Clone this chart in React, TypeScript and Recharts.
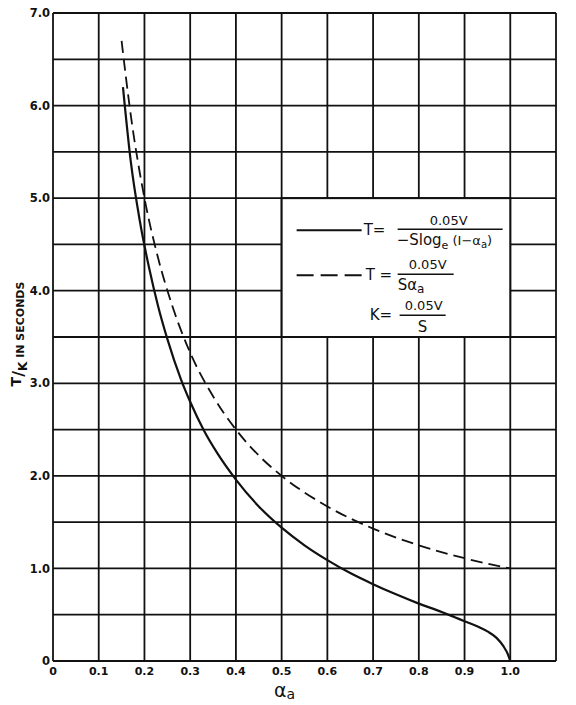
import React from 'react';
import {
  ComposedChart,
  Line,
  XAxis,
  YAxis,
  CartesianGrid,
  ReferenceArea,
} from 'recharts';

// solid: T = 0.05V / (-S log_e(1 - alpha)), in units of K
const solidAlpha = [0.153, 0.17, 0.19, 0.21, 0.23, 0.25, 0.28, 0.3, 0.33, 0.36, 0.4, 0.45, 0.5, 0.55, 0.6, 0.65, 0.7, 0.75, 0.8, 0.85, 0.88, 0.9, 0.93, 0.95, 0.97, 0.985, 0.995, 1.0];
const solidT = [6.2, 5.4, 4.75, 4.25, 3.83, 3.48, 3.04, 2.8, 2.49, 2.24, 1.96, 1.67, 1.44, 1.25, 1.09, 0.95, 0.83, 0.72, 0.62, 0.53, 0.47, 0.43, 0.37, 0.32, 0.25, 0.16, 0.07, 0];

// dashed: T = 0.05V / (S alpha)
const dashedAlpha = [0.15, 0.17, 0.2, 0.23, 0.26, 0.3, 0.35, 0.4, 0.45, 0.5, 0.6, 0.7, 0.8, 0.9, 1.0];
const dashedT = [6.7, 5.9, 5.0, 4.35, 3.85, 3.33, 2.86, 2.5, 2.22, 2.0, 1.67, 1.43, 1.25, 1.11, 1.0];

const xTicks = [0, 0.1, 0.2, 0.3, 0.4, 0.5, 0.6, 0.7, 0.8, 0.9, 1.0, 1.1];
const yTicks = [0, 0.5, 1, 1.5, 2, 2.5, 3, 3.5, 4, 4.5, 5, 5.5, 6, 6.5, 7];

const solidData = solidAlpha.map((a, i) => ({ a, t: solidT[i] }));
const dashedData = dashedAlpha.map((a, i) => ({ a, t: dashedT[i] }));

const FONT = '"DejaVu Sans", sans-serif';
const INK = '#111';

const fmtX = (v: number) => (v > 1.05 ? '' : v === 0 ? '0' : v.toFixed(1));
const fmtY = (v: number) => (!Number.isInteger(v) ? '' : v === 0 ? '0' : v.toFixed(1));

const LegendBox = ({ x, y, width, height }: any) => {
  const x0 = x;
  const y0 = y;
  return (
    <g fontFamily={FONT} fill={INK}>
      <rect x={x0} y={y0} width={width} height={height} fill="#fff" stroke={INK} strokeWidth={2} />
      {/* solid entry */}
      <line x1={x0 + 15} x2={x0 + 80} y1={y0 + 32} y2={y0 + 32} stroke={INK} strokeWidth={2} />
      <text x={x0 + 82} y={y0 + 37} fontSize={15}>T=</text>
      <text x={x0 + 167} y={y0 + 27} fontSize={13} textAnchor="middle">0.05V</text>
      <line x1={x0 + 116} x2={x0 + 221} y1={y0 + 31} y2={y0 + 31} stroke={INK} strokeWidth={1.5} />
      <text x={x0 + 115} y={y0 + 47} fontSize={15}>
        −Slog<tspan fontSize={11} dy={4}>e</tspan>
        <tspan dy={-4} fontSize={13}> (I−α</tspan>
        <tspan fontSize={10} dy={3}>a</tspan>
        <tspan dy={-3} fontSize={13}>)</tspan>
      </text>
      {/* dashed entry */}
      <line x1={x0 + 15} x2={x0 + 80} y1={y0 + 77} y2={y0 + 77} stroke={INK} strokeWidth={2} strokeDasharray="17 7" />
      <text x={x0 + 84} y={y0 + 82} fontSize={15}>T =</text>
      <text x={x0 + 146} y={y0 + 71} fontSize={13} textAnchor="middle">0.05V</text>
      <line x1={x0 + 116} x2={x0 + 172} y1={y0 + 76} y2={y0 + 76} stroke={INK} strokeWidth={1.5} />
      <text x={x0 + 116} y={y0 + 92} fontSize={15}>
        Sα<tspan fontSize={12} dy={3}>a</tspan>
      </text>
      {/* K definition */}
      <text x={x0 + 88} y={y0 + 122} fontSize={15}>K=</text>
      <text x={x0 + 142} y={y0 + 112} fontSize={13} textAnchor="middle">0.05V</text>
      <line x1={x0 + 118} x2={x0 + 164} y1={y0 + 117} y2={y0 + 117} stroke={INK} strokeWidth={1.5} />
      <text x={x0 + 141} y={y0 + 134} fontSize={15} textAnchor="middle">S</text>
    </g>
  );
};

const XLabel = ({ viewBox }: any) => {
  // sits under the 0.5 gridline
  const cx = viewBox.x + viewBox.width * (0.5 / 1.1) + 3;
  return (
    <text x={cx} y={697} fontFamily={FONT} fontSize={19} fill={INK} textAnchor="middle">
      α<tspan fontSize={14} dy={2}>a</tspan>
    </text>
  );
};

const YLabel = () => (
  <text
    transform="translate(24, 334) rotate(-90)"
    fontFamily={FONT}
    fill={INK}
    textAnchor="middle"
    fontWeight="bold"
  >
    <tspan fontSize={14} dy={-3}>T</tspan>
    <tspan fontSize={16} dy={3}>/</tspan>
    <tspan fontSize={12} dy={3}>K</tspan>
    <tspan fontSize={11} dy={-3}>  IN SECONDS</tspan>
  </text>
);

export default function App() {
  return (
    <div style={{ position: 'absolute', left: 0, top: 0, background: '#fff' }}>
      <ComposedChart
        width={576}
        height={705}
        margin={{ top: 13, right: 20, left: 0, bottom: 0 }}
      >
        <CartesianGrid stroke={INK} strokeWidth={1.8} />
        <XAxis
          type="number"
          dataKey="a"
          domain={[0, 1.1]}
          ticks={xTicks}
          tickFormatter={fmtX}
          interval={0}
          height={44}
          axisLine={false}
          tickLine={false}
          tickSize={0}
          tickMargin={6}
          tick={{ fill: INK, fontSize: 11, fontWeight: 'bold', fontFamily: FONT }}
          label={<XLabel />}
        />
        <YAxis
          type="number"
          domain={[0, 7]}
          ticks={yTicks}
          tickFormatter={fmtY}
          interval={0}
          width={53}
          axisLine={false}
          tickLine={false}
          tickSize={0}
          tickMargin={3}
          tick={{ fill: INK, fontSize: 11.5, fontWeight: 'bold', fontFamily: FONT }}
          label={<YLabel />}
        />
        <ReferenceArea
          x1={0.5}
          x2={1.0}
          y1={3.5}
          y2={5.0}
          shape={(p: any) => <LegendBox {...p} />}
        />
        <Line
          data={dashedData}
          dataKey="t"
          type="monotone"
          stroke={INK}
          strokeWidth={1.8}
          strokeDasharray="12 6"
          dot={false}
          isAnimationActive={false}
        />
        <Line
          data={solidData}
          dataKey="t"
          type="monotone"
          stroke={INK}
          strokeWidth={2.2}
          dot={false}
          isAnimationActive={false}
        />
      </ComposedChart>
    </div>
  );
}
